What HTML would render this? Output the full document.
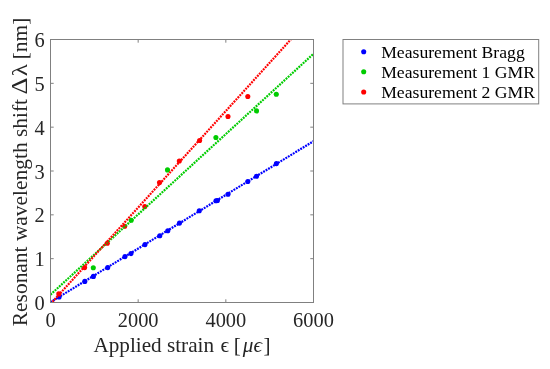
<!DOCTYPE html>
<html><head><meta charset="utf-8"><style>
html,body{margin:0;padding:0;background:#fff;}
svg{display:block;}
text{font-family:"Liberation Serif","DejaVu Serif",serif;fill:#262626;}
.lg text{fill:#000;}
</style></head><body>
<svg width="550" height="369" viewBox="0 0 550 369">
<rect width="550" height="369" fill="#fff"/>
<defs><clipPath id="ax"><rect x="50.5" y="39.5" width="263.0" height="263.0"/></clipPath></defs>
<g clip-path="url(#ax)">
<line x1="50.5" y1="302.2" x2="313.5" y2="141.2" stroke="#0000ff" stroke-width="2.2" stroke-dasharray="1.9 1.0"/>
<circle cx="59.1" cy="297.0" r="2.55" fill="#0000ff"/>
<circle cx="84.8" cy="281.4" r="2.55" fill="#0000ff"/>
<circle cx="93.4" cy="276.4" r="2.55" fill="#0000ff"/>
<circle cx="107.7" cy="267.6" r="2.55" fill="#0000ff"/>
<circle cx="125" cy="256.6" r="2.55" fill="#0000ff"/>
<circle cx="131" cy="253.6" r="2.55" fill="#0000ff"/>
<circle cx="145" cy="244.6" r="2.55" fill="#0000ff"/>
<circle cx="159.8" cy="235.8" r="2.55" fill="#0000ff"/>
<circle cx="167.8" cy="230.8" r="2.55" fill="#0000ff"/>
<circle cx="179.5" cy="223.1" r="2.55" fill="#0000ff"/>
<circle cx="199.3" cy="210.8" r="2.55" fill="#0000ff"/>
<circle cx="216.0" cy="200.8" r="2.55" fill="#0000ff"/>
<circle cx="217.4" cy="200.5" r="2.55" fill="#0000ff"/>
<circle cx="228" cy="194.2" r="2.55" fill="#0000ff"/>
<circle cx="247.8" cy="181.5" r="2.55" fill="#0000ff"/>
<circle cx="256.5" cy="176.3" r="2.55" fill="#0000ff"/>
<circle cx="276.4" cy="163.6" r="2.55" fill="#0000ff"/>
<circle cx="93.3" cy="267.7" r="2.55" fill="#00cc00"/>
<circle cx="131.2" cy="220.3" r="2.55" fill="#00cc00"/>
<circle cx="167.5" cy="169.9" r="2.55" fill="#00cc00"/>
<circle cx="215.9" cy="137.5" r="2.55" fill="#00cc00"/>
<circle cx="256.5" cy="110.9" r="2.55" fill="#00cc00"/>
<circle cx="276.3" cy="94.2" r="2.55" fill="#00cc00"/>
<circle cx="58.8" cy="293.9" r="2.55" fill="#ff0000"/>
<circle cx="84.6" cy="267.6" r="2.55" fill="#ff0000"/>
<circle cx="107.3" cy="243.3" r="2.55" fill="#ff0000"/>
<circle cx="124.7" cy="226.3" r="2.55" fill="#ff0000"/>
<circle cx="144.8" cy="206.6" r="2.55" fill="#ff0000"/>
<circle cx="159.5" cy="182.6" r="2.55" fill="#ff0000"/>
<circle cx="179.3" cy="161" r="2.55" fill="#ff0000"/>
<circle cx="199.6" cy="140.5" r="2.55" fill="#ff0000"/>
<circle cx="228" cy="116.5" r="2.55" fill="#ff0000"/>
<circle cx="247.8" cy="96.5" r="2.55" fill="#ff0000"/>
<line x1="50.5" y1="294.65" x2="313.5" y2="53.8" stroke="#00cc00" stroke-width="2.2" stroke-dasharray="1.9 1.0"/>
<line x1="50.5" y1="304.0" x2="290.78" y2="39.5" stroke="#ff0000" stroke-width="2.2" stroke-dasharray="1.9 1.0"/>
</g>
<g stroke="#808080" stroke-width="1" fill="none">
<rect x="50.5" y="39.5" width="263.0" height="263.0"/>
<line x1="50.5" y1="302.5" x2="50.5" y2="299.3"/>
<line x1="50.5" y1="39.5" x2="50.5" y2="42.7"/>
<line x1="138.16666666666669" y1="302.5" x2="138.16666666666669" y2="299.3"/>
<line x1="138.16666666666669" y1="39.5" x2="138.16666666666669" y2="42.7"/>
<line x1="225.83333333333334" y1="302.5" x2="225.83333333333334" y2="299.3"/>
<line x1="225.83333333333334" y1="39.5" x2="225.83333333333334" y2="42.7"/>
<line x1="313.5" y1="302.5" x2="313.5" y2="299.3"/>
<line x1="313.5" y1="39.5" x2="313.5" y2="42.7"/>
<line x1="50.5" y1="302.5" x2="53.7" y2="302.5"/>
<line x1="313.5" y1="302.5" x2="310.3" y2="302.5"/>
<line x1="50.5" y1="258.6666666666667" x2="53.7" y2="258.6666666666667"/>
<line x1="313.5" y1="258.6666666666667" x2="310.3" y2="258.6666666666667"/>
<line x1="50.5" y1="214.83333333333331" x2="53.7" y2="214.83333333333331"/>
<line x1="313.5" y1="214.83333333333331" x2="310.3" y2="214.83333333333331"/>
<line x1="50.5" y1="171.0" x2="53.7" y2="171.0"/>
<line x1="313.5" y1="171.0" x2="310.3" y2="171.0"/>
<line x1="50.5" y1="127.16666666666666" x2="53.7" y2="127.16666666666666"/>
<line x1="313.5" y1="127.16666666666666" x2="310.3" y2="127.16666666666666"/>
<line x1="50.5" y1="83.33333333333334" x2="53.7" y2="83.33333333333334"/>
<line x1="313.5" y1="83.33333333333334" x2="310.3" y2="83.33333333333334"/>
<line x1="50.5" y1="39.5" x2="53.7" y2="39.5"/>
<line x1="313.5" y1="39.5" x2="310.3" y2="39.5"/>
</g>
<g font-size="20.4">
<text x="50.5" y="326.5" text-anchor="middle">0</text>
<text x="138.16666666666669" y="326.5" text-anchor="middle">2000</text>
<text x="225.83333333333334" y="326.5" text-anchor="middle">4000</text>
<text x="313.5" y="326.5" text-anchor="middle">6000</text>
<text x="44.7" y="310.1" text-anchor="end">0</text>
<text x="44.7" y="266.2666666666667" text-anchor="end">1</text>
<text x="44.7" y="222.4333333333333" text-anchor="end">2</text>
<text x="44.7" y="178.6" text-anchor="end">3</text>
<text x="44.7" y="134.76666666666665" text-anchor="end">4</text>
<text x="44.7" y="90.93333333333334" text-anchor="end">5</text>
<text x="44.7" y="47.1" text-anchor="end">6</text>
</g>
<g font-size="21.2"><text x="93.4" y="351.8">Applied strain</text>
<text x="220.5" y="351.8">ϵ</text><text x="233.7" y="351.8">[</text>
<text x="242.8" y="351.8" font-style="italic">μ</text><text x="253.4" y="351.8" font-style="italic">ϵ</text>
<text x="263.6" y="351.8">]</text></g>
<g transform="translate(26.9 325.2) rotate(-90)" font-size="21.43">
<text x="-1">Resonant wavelength shift</text>
<text x="230.8" font-size="22.5" textLength="17" lengthAdjust="spacingAndGlyphs">Δ</text>
<text x="249" font-size="20" textLength="12.2" lengthAdjust="spacingAndGlyphs">λ</text>
<text x="265.9">[nm]</text>
</g>
<rect x="343" y="39.5" width="195.7" height="64.4" fill="#fff" stroke="#808080" stroke-width="1"/>
<circle cx="363.7" cy="51.8" r="2.55" fill="#0000ff"/>
<circle cx="363.7" cy="71.8" r="2.55" fill="#00cc00"/>
<circle cx="363.7" cy="92" r="2.55" fill="#ff0000"/>
<g font-size="17.65" class="lg">
<text x="381.2" y="57.6">Measurement Bragg</text>
<text x="381.2" y="77.7">Measurement 1 GMR</text>
<text x="381.2" y="97.9">Measurement 2 GMR</text>
</g>
</svg>
</body></html>
